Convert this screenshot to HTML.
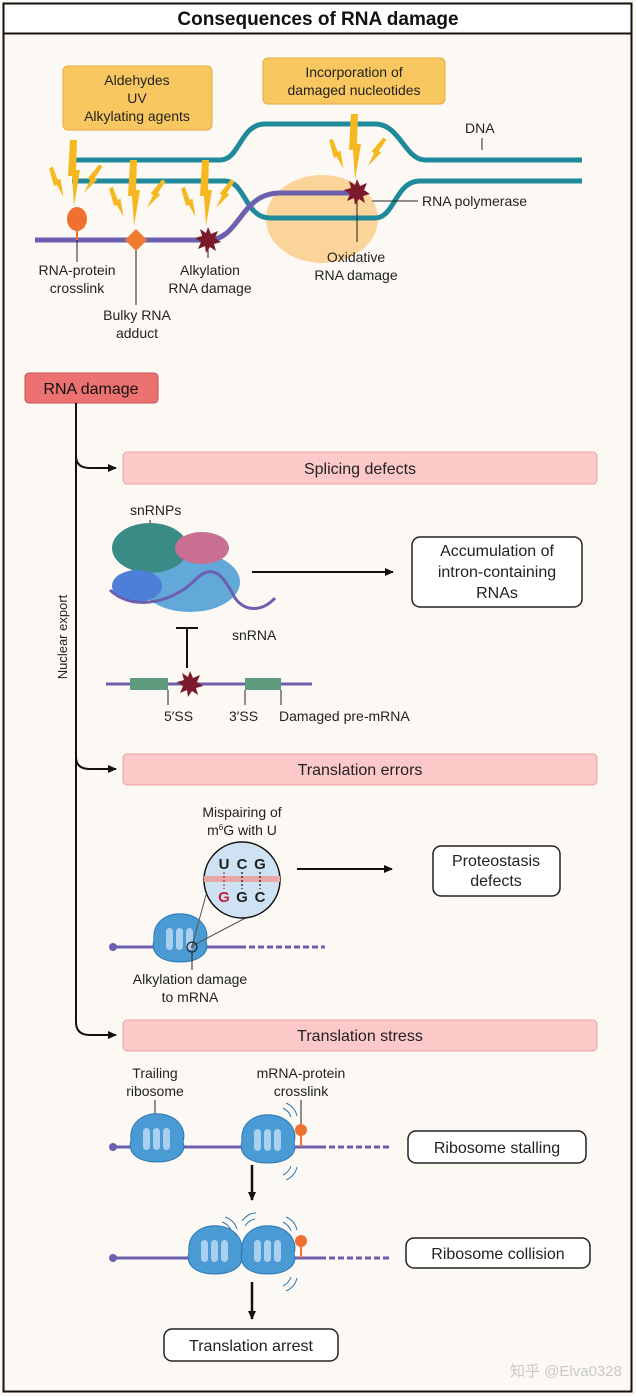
<!DOCTYPE html>
<html><head><meta charset="utf-8"><style>
html,body{margin:0;padding:0;background:#fff}
svg{display:block}
text{font-family:"Liberation Sans","Noto Sans CJK SC",sans-serif;fill:#222}
</style></head><body>
<svg width="636" height="1396" viewBox="0 0 636 1396" xmlns="http://www.w3.org/2000/svg">
<defs>
<marker id="ah" markerWidth="10" markerHeight="10" refX="8" refY="5" orient="auto" markerUnits="userSpaceOnUse"><path d="M0,1 L9,5 L0,9 Z" fill="#111"/></marker>
<g id="bolt"><path d="M-3,0 L4,0 L3,30 L7,30 L1,66 L-1,36 L-5,36 Z" fill="#f6b820"/></g>
<g id="sbolt"><path d="M-1,0 L3,0 L2,14 L5,14 L0,32 L-1,18 L-4,18 Z" fill="#f6b820"/></g>
<g id="star"><path d="M0,-13 L3,-6 L10,-9 L7,-2 L13,2 L6,4 L8,11 L2,7 L-2,13 L-3,6 L-10,9 L-7,2 L-13,-2 L-6,-4 L-8,-11 L-2,-7 Z" fill="#7a1a2a"/></g>
<g id="ribo">
<path d="M-26,-2 C-28,-22 -10,-30 4,-28 C20,-26 30,-14 26,0 C30,10 20,20 0,20 C-18,20 -30,12 -26,-2 Z" fill="#4a9ad4" stroke="#2d78b4" stroke-width="1"/>
<rect x="-14" y="-14" width="7" height="22" rx="3.5" fill="#a9d0ee"/>
<rect x="-4" y="-14" width="7" height="22" rx="3.5" fill="#a9d0ee"/>
<rect x="6" y="-14" width="7" height="22" rx="3.5" fill="#a9d0ee"/>
</g>
</defs>
<rect x="0" y="0" width="636" height="1396" fill="#fcf9f4"/>
<rect x="3.5" y="3.5" width="628" height="1388" fill="none" stroke="#111" stroke-width="2"/>
<rect x="3.5" y="3.5" width="628" height="30" fill="#fff" stroke="#111" stroke-width="2"/>
<text x="318" y="25" text-anchor="middle" font-size="19" font-weight="bold" style="fill:#111">Consequences of RNA damage</text>

<rect x="63" y="66" width="149" height="64" rx="5" fill="#f9c760" stroke="#e6a840"/>
<text x="137" y="85" text-anchor="middle" font-size="14">Aldehydes</text>
<text x="137" y="103" text-anchor="middle" font-size="14">UV</text>
<text x="137" y="121" text-anchor="middle" font-size="14">Alkylating agents</text>
<rect x="263" y="58" width="182" height="46" rx="5" fill="#f9c760" stroke="#e6a840"/>
<text x="354" y="77" text-anchor="middle" font-size="14">Incorporation of</text>
<text x="354" y="95" text-anchor="middle" font-size="14">damaged nucleotides</text>

<ellipse cx="322" cy="219" rx="56" ry="44" fill="#fbd49a"/>
<path d="M72,160 L220,160 C240,160 240,124 265,124 L375,124 C400,124 405,160 425,160 L582,160" fill="none" stroke="#1f8a9b" stroke-width="5"/>
<path d="M72,181 L225,181 C245,181 245,218 270,218 L375,218 C395,218 395,181 420,181 L582,181" fill="none" stroke="#1f8a9b" stroke-width="5"/>
<text x="465" y="133" font-size="14">DNA</text>
<line x1="482" y1="138" x2="482" y2="150" stroke="#222"/>
<path d="M35,240 L208,240 C240,240 240,193 280,193 L357,193" fill="none" stroke="#6b5fae" stroke-width="5"/>
<line x1="77" y1="218" x2="77" y2="262" stroke="#222"/>
<line x1="77" y1="226" x2="77" y2="240" stroke="#f07030" stroke-width="2"/>
<ellipse cx="77" cy="219" rx="10" ry="12" fill="#f07030"/>
<line x1="136" y1="240" x2="136" y2="305" stroke="#222"/>
<path d="M136,229 L147,240 L136,251 L125,240 Z" fill="#f07a30"/>
<line x1="208" y1="240" x2="208" y2="258" stroke="#222"/>
<use href="#star" x="208" y="240"/>
<line x1="357" y1="193" x2="357" y2="242" stroke="#222"/>
<use href="#star" x="357" y="192"/>
<line x1="372" y1="201" x2="418" y2="201" stroke="#222"/>
<text x="422" y="206" font-size="14">RNA polymerase</text>

<use href="#bolt" x="73" y="140"/>
<g transform="translate(50,168) rotate(-25)"><use href="#sbolt"/></g>
<g transform="translate(100,165) rotate(30)"><use href="#sbolt"/></g>
<use href="#bolt" x="133" y="160"/>
<g transform="translate(110,188) rotate(-25)"><use href="#sbolt"/></g>
<g transform="translate(163,180) rotate(30)"><use href="#sbolt"/></g>
<use href="#bolt" x="205" y="160"/>
<g transform="translate(182,188) rotate(-25)"><use href="#sbolt"/></g>
<g transform="translate(232,180) rotate(30)"><use href="#sbolt"/></g>
<use href="#bolt" x="354" y="114"/>
<g transform="translate(330,140) rotate(-25)"><use href="#sbolt"/></g>
<g transform="translate(384,138) rotate(30)"><use href="#sbolt"/></g>
<g font-size="14" text-anchor="middle">
<text x="77" y="275">RNA-protein</text><text x="77" y="293">crosslink</text>
<text x="137" y="320">Bulky RNA</text><text x="137" y="338">adduct</text>
<text x="210" y="275">Alkylation</text><text x="210" y="293">RNA damage</text>
<text x="356" y="262">Oxidative</text><text x="356" y="280">RNA damage</text>
</g>

<rect x="25" y="373" width="133" height="30" rx="4" fill="#ec7272" stroke="#c95050"/>
<text x="91" y="394" text-anchor="middle" font-size="16" style="fill:#111">RNA damage</text>
<path d="M76,403 L76,1022 Q76,1035 90,1035 L116,1035" fill="none" stroke="#111" stroke-width="2" marker-end="url(#ah)"/>
<path d="M76,456 Q76,468 90,468 L116,468" fill="none" stroke="#111" stroke-width="2" marker-end="url(#ah)"/>
<path d="M76,757 Q76,769 90,769 L116,769" fill="none" stroke="#111" stroke-width="2" marker-end="url(#ah)"/>
<text x="67" y="637" text-anchor="middle" font-size="13" transform="rotate(-90 67 637)">Nuclear export</text>

<g font-size="16">
<rect x="123" y="452" width="474" height="32" rx="4" fill="#fcc8c8" stroke="#eaa4a4"/>
<text x="360" y="474" text-anchor="middle">Splicing defects</text>
<rect x="123" y="754" width="474" height="31" rx="4" fill="#fcc8c8" stroke="#eaa4a4"/>
<text x="360" y="775" text-anchor="middle">Translation errors</text>
<rect x="123" y="1020" width="474" height="31" rx="4" fill="#fcc8c8" stroke="#eaa4a4"/>
<text x="360" y="1041" text-anchor="middle">Translation stress</text>
</g>

<text x="130" y="515" font-size="14">snRNPs</text>
<line x1="150" y1="520" x2="150" y2="530" stroke="#222"/>
<ellipse cx="190" cy="582" rx="50" ry="30" fill="#62a8d8"/>
<ellipse cx="150" cy="548" rx="38" ry="25" fill="#3a8a85"/>
<ellipse cx="202" cy="548" rx="27" ry="16" fill="#c96f92"/>
<ellipse cx="137" cy="586" rx="25" ry="16" fill="#4d7fd8"/>
<path d="M110,590 C130,610 170,605 195,580 C215,560 225,580 235,598 C245,612 262,612 275,598" fill="none" stroke="#6b5fae" stroke-width="3"/>
<text x="232" y="640" font-size="14">snRNA</text>
<line x1="252" y1="572" x2="393" y2="572" stroke="#111" stroke-width="2" marker-end="url(#ah)"/>
<rect x="412" y="537" width="170" height="70" rx="8" fill="#fff" stroke="#222" stroke-width="1.5"/>
<g font-size="16" text-anchor="middle"><text x="497" y="556">Accumulation of</text><text x="497" y="577">intron-containing</text><text x="497" y="598">RNAs</text></g>
<line x1="187" y1="668" x2="187" y2="628" stroke="#111" stroke-width="2"/>
<line x1="176" y1="628" x2="198" y2="628" stroke="#111" stroke-width="2"/>
<line x1="106" y1="684" x2="312" y2="684" stroke="#6b5fae" stroke-width="3"/>
<rect x="130" y="678" width="38" height="12" fill="#5e9a7c"/>
<rect x="245" y="678" width="36" height="12" fill="#5e9a7c"/>
<use href="#star" x="190" y="684"/>
<line x1="168" y1="690" x2="168" y2="705" stroke="#222"/><line x1="245" y1="690" x2="245" y2="705" stroke="#222"/><line x1="281" y1="690" x2="281" y2="705" stroke="#222"/>
<g font-size="14"><text x="164" y="721">5′SS</text><text x="229" y="721">3′SS</text><text x="279" y="721">Damaged pre-mRNA</text></g>

<g font-size="14" text-anchor="middle"><text x="242" y="817">Mispairing of</text><text x="242" y="835">m<tspan font-size="8" dy="-5">6</tspan><tspan dy="5">G with U</tspan></text></g>
<line x1="112" y1="947" x2="240" y2="947" stroke="#6b5fae" stroke-width="3"/>
<line x1="240" y1="947" x2="325" y2="947" stroke="#6b5fae" stroke-width="3" stroke-dasharray="6,3"/>
<circle cx="113" cy="947" r="4" fill="#6b5fae"/>
<use href="#ribo" x="180" y="942"/>
<line x1="192" y1="946" x2="206" y2="895" stroke="#555"/>
<line x1="192" y1="946" x2="255" y2="913" stroke="#555"/>
<circle cx="192" cy="947" r="5" fill="none" stroke="#111"/>
<circle cx="192" cy="947" r="1.2" fill="#c03040"/>
<circle cx="242" cy="880" r="38" fill="#cfe2f3" stroke="#111" stroke-width="1.5"/>
<rect x="204" y="876" width="76" height="6" fill="#e8a8a8"/>
<g font-size="15" font-weight="bold" text-anchor="middle"><text x="224" y="869">U</text><text x="242" y="869">C</text><text x="260" y="869">G</text>
<text x="224" y="902" style="fill:#c8203a">G</text><text x="242" y="902">G</text><text x="260" y="902">C</text></g>
<g stroke-dasharray="2,2" stroke-width="1.2"><line x1="224" y1="872" x2="224" y2="889" stroke="#c8203a"/><line x1="242" y1="872" x2="242" y2="889" stroke="#111"/><line x1="260" y1="872" x2="260" y2="889" stroke="#111"/></g>
<line x1="192" y1="952" x2="192" y2="970" stroke="#222"/>
<g font-size="14" text-anchor="middle"><text x="190" y="984">Alkylation damage</text><text x="190" y="1002">to mRNA</text></g>
<line x1="297" y1="869" x2="392" y2="869" stroke="#111" stroke-width="2" marker-end="url(#ah)"/>
<rect x="433" y="846" width="127" height="50" rx="8" fill="#fff" stroke="#222" stroke-width="1.5"/>
<g font-size="16" text-anchor="middle"><text x="496" y="866">Proteostasis</text><text x="496" y="886">defects</text></g>

<g font-size="14" text-anchor="middle"><text x="155" y="1078">Trailing</text><text x="155" y="1096">ribosome</text><text x="301" y="1078">mRNA-protein</text><text x="301" y="1096">crosslink</text></g>
<line x1="155" y1="1100" x2="155" y2="1122" stroke="#222"/>
<line x1="301" y1="1100" x2="301" y2="1125" stroke="#222"/>
<line x1="112" y1="1147" x2="320" y2="1147" stroke="#6b5fae" stroke-width="3"/>
<line x1="320" y1="1147" x2="390" y2="1147" stroke="#6b5fae" stroke-width="3" stroke-dasharray="6,3"/>
<circle cx="113" cy="1147" r="4" fill="#6b5fae"/>
<use href="#ribo" x="157" y="1142"/>
<use href="#ribo" x="268" y="1143"/>
<line x1="301" y1="1131" x2="301" y2="1147" stroke="#f07030" stroke-width="2"/>
<circle cx="301" cy="1130" r="6" fill="#f07030"/>
<path d="M283,1108 q6,3 8,9 M286,1103 q9,4 11,13 M283,1175 q6,-3 8,-9 M286,1180 q9,-4 11,-13" fill="none" stroke="#2d78b4" stroke-width="1"/>
<rect x="408" y="1131" width="178" height="32" rx="8" fill="#fff" stroke="#222" stroke-width="1.5"/>
<text x="497" y="1153" text-anchor="middle" font-size="16">Ribosome stalling</text>
<line x1="252" y1="1165" x2="252" y2="1200" stroke="#111" stroke-width="2.5" marker-end="url(#ah)"/>

<line x1="112" y1="1258" x2="320" y2="1258" stroke="#6b5fae" stroke-width="3"/>
<line x1="320" y1="1258" x2="390" y2="1258" stroke="#6b5fae" stroke-width="3" stroke-dasharray="6,3"/>
<circle cx="113" cy="1258" r="4" fill="#6b5fae"/>
<use href="#ribo" x="215" y="1254"/>
<use href="#ribo" x="268" y="1254"/>
<line x1="301" y1="1242" x2="301" y2="1258" stroke="#f07030" stroke-width="2"/>
<circle cx="301" cy="1241" r="6" fill="#f07030"/>
<path d="M222,1222 q6,2 9,8 M225,1217 q9,3 12,12 M245,1226 q4,-6 10,-7 M242,1221 q6,-8 14,-8 M283,1222 q6,3 8,9 M286,1217 q9,4 11,13 M283,1286 q6,-3 8,-9 M286,1291 q9,-4 11,-13" fill="none" stroke="#2d78b4" stroke-width="1"/>
<rect x="406" y="1238" width="184" height="30" rx="8" fill="#fff" stroke="#222" stroke-width="1.5"/>
<text x="498" y="1259" text-anchor="middle" font-size="16">Ribosome collision</text>
<line x1="252" y1="1282" x2="252" y2="1319" stroke="#111" stroke-width="2.5" marker-end="url(#ah)"/>
<rect x="164" y="1329" width="174" height="32" rx="8" fill="#fff" stroke="#222" stroke-width="1.5"/>
<text x="251" y="1351" text-anchor="middle" font-size="16">Translation arrest</text>
<text x="510" y="1376" font-size="15" style="fill:#c8c8c8">知乎 @Elva0328</text>
</svg>
</body></html>
